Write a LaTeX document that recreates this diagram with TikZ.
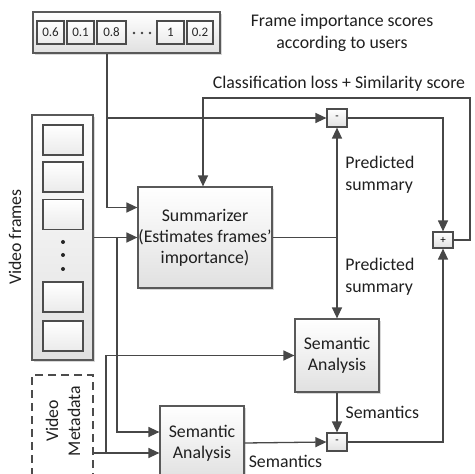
\documentclass[tikz,border=0pt]{standalone}
\usepackage{fontspec}
\setmainfont{Carlito}
\usetikzlibrary{arrows.meta,shadows}

\tikzset{
  line/.style={draw=black!72, line width=0.65pt},
  arr/.style={line, -{Triangle[length=5.5pt,width=5pt]}},
  blok/.style={draw=black!65, line width=0.6pt, top color=white, bottom color=black!12,
    drop shadow={shadow xshift=1pt, shadow yshift=-1pt, fill=black!30},
    inner sep=0pt, align=center, font=\fontsize{8.9}{10.5}\selectfont, text=black!88},
  cell/.style={draw=black!70, line width=0.6pt, top color=white, bottom color=black!8,
    inner sep=0pt, font=\fontsize{6.5}{7}\selectfont, text=black!85},
  opbox/.style={draw=black!70, line width=0.6pt, top color=white, bottom color=black!12,
    inner sep=0pt, minimum width=10pt, minimum height=9pt, font=\fontsize{5.5}{5.5}\selectfont},
  lbl/.style={font=\fontsize{8.9}{11}\selectfont, text=black!88, inner sep=0pt},
}

\begin{document}
\begin{tikzpicture}[x=0.5pt,y=-0.5pt]
\useasboundingbox (0,0) rectangle (474,474);
\clip (0,0) rectangle (474,474);

% scores given by users
\node[blok, minimum width=93.5pt, minimum height=20.5pt] (scores) at (126.5,32.5) {};
\node[cell, minimum width=13.5pt, minimum height=11.5pt] (s1) at (50.5,32.5) {0.6};
\node[cell, minimum width=13.5pt, minimum height=11.5pt] (s2) at (80.5,32.5) {0.1};
\node[cell, minimum width=14.5pt, minimum height=11.5pt] (s3) at (111.5,32.5) {0.8};
\node[cell, minimum width=13.5pt, minimum height=11.5pt] (s5) at (170.5,32.5) {1};
\node[cell, minimum width=13pt, minimum height=11.5pt] (s6) at (200,32.5) {0.2};
\fill[black!75] (134,33) circle (0.7pt) (142,33) circle (0.7pt) (150,33) circle (0.7pt);
\node[lbl, align=center] (scorestxt) at (342,33) {Frame importance scores\\according to users};

% video frames
\node[blok, minimum width=30.5pt, minimum height=122.5pt] (frames) at (62.5,237.5) {};
\node[cell, minimum width=20pt, minimum height=15pt] (f1) at (63,140) {};
\node[cell, minimum width=20pt, minimum height=15pt] (f2) at (63,177) {};
\node[cell, minimum width=20pt, minimum height=15pt] (f3) at (63,214.5) {};
\node[cell, minimum width=20pt, minimum height=15pt] (f4) at (63,297) {};
\node[cell, minimum width=20pt, minimum height=15pt] (f5) at (63,336) {};
\fill[black!85] (63,242) circle (1pt) (63,255) circle (1pt) (63,269) circle (1pt);
\node[lbl, rotate=90] (framestxt) at (15,237) {Video frames};

% metadata
\node[draw=black!70, line width=0.6pt, dash pattern=on 4pt off 2.5pt,
  minimum width=30.5pt, minimum height=55pt] (meta) at (62.5,430) {};
\node[lbl, rotate=90, align=center] (metatxt) at (63,421) {Video\\Metadata};

% blocks
\node[blok, minimum width=67pt, minimum height=50.5pt] (summ) at (205,237.5) {Summarizer\\(Estimates frames’\\importance)};
\node[blok, minimum width=42pt, minimum height=36.5pt] (sa1) at (337,355.5) {Semantic\\Analysis};
\node[blok, minimum width=42pt, minimum height=37pt] (sa2) at (202,443) {Semantic\\Analysis};
\node[opbox] (m1) at (337,118) {-};
\node[opbox, minimum height=8pt] (pl) at (443,240) {+};
\node[opbox] (m2) at (337,442) {-};

% junctions and corners
\coordinate (j1) at (107,118);
\coordinate (j2) at (117,237.5);
\coordinate (j3) at (106,453);
\coordinate (j4) at (337,237.5);
\coordinate (c1) at (470,98);
\coordinate (c2) at (203,98);

% connectors
\draw[line] (scores.south -| j1) -- (j1);
\draw[arr] (j1) |- ([yshift=15pt]summ.west);
\draw[arr] (j1) -- (m1.west);
\draw[arr] (frames.east) -- (summ.west);
\draw[arr] (j2) |- ([yshift=5.5pt]sa2.west);
\draw[arr] (meta.east |- j3) -- ([yshift=-5pt]sa2.west);
\draw[arr] (j3) |- (sa1.west);
\draw[line] (summ.east) -- (j4);
\draw[arr] (j4) -- (m1.south);
\draw[arr] (j4) -- (sa1.north);
\draw[arr] (pl.east) -| (c1) -- (c2) -- (summ.north -| c2);
\draw[arr] (m1.east) -| (pl.north);
\draw[arr] (sa1.south) -- node[lbl, right=4pt] {Semantics} (m2.north);
\draw[arr] (sa2.east) -- node[lbl, below=6pt] {Semantics} (m2.west);
\draw[arr] (m2.east) -| (pl.south);

\node[lbl] (losstxt) at (339,84) {Classification loss + Similarity score};
\node[lbl, anchor=west, align=left] (pred1) at (345,175) {Predicted\\summary};
\node[lbl, anchor=west, align=left] (pred2) at (345,277) {Predicted\\summary};
\end{tikzpicture}
\end{document}
